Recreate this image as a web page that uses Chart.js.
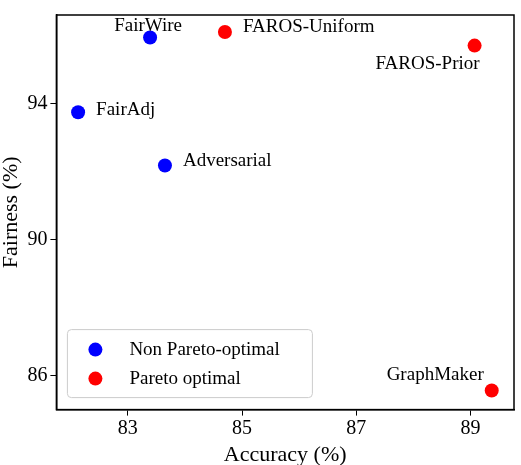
<!DOCTYPE html><html><head><script src="https://cdn.jsdelivr.net/npm/chart.js@4"></script>
<style>body{margin:0;background:#fff}#w{width:521px;height:465px}</style></head><body><div id="w"><canvas id="c"></canvas></div>
<script>
const names=["FairWire","FairAdj","Adversarial","FAROS-Uniform","FAROS-Prior","GraphMaker"];
const accuracy=[83.39,82.13,83.65,84.70,89.07,89.37];
const fairness=[95.94,93.74,92.17,96.1,95.7,85.55];
const pareto=[false,false,false,true,true,true];
const xTicks=[83,85,87,89];
const yTicks=[86,90,94];
const F='"Liberation Serif", "DejaVu Serif", serif';
const labelOff={"FairWire":[-2,-11,'center'],"FairAdj":[18,-2,'left'],"Adversarial":[18,-5,'left'],"FAROS-Uniform":[18,-5,'left'],"FAROS-Prior":[5,18,'right'],"GraphMaker":[-8,-16,'right']};
const mk=p=>names.map((n,i)=>pareto[i]===p?{x:accuracy[i],y:fairness[i],n}:null).filter(Boolean);
const plug={id:'lab',afterDatasetsDraw(ch){const c=ch.ctx;c.save();c.font='19px '+F;c.fillStyle='#000';c.textBaseline='middle';
ch.data.datasets.forEach(ds=>ds.data.forEach(d=>{const o=labelOff[d.n];c.textAlign=o[2];c.fillText(d.n,ch.scales.x.getPixelForValue(d.x)+o[0],ch.scales.y.getPixelForValue(d.y)+o[1]);}));
const a=ch.chartArea;const bx=a.left+11,by=a.bottom-80,bw=245,bh=68;
c.strokeStyle='#ccc';c.lineWidth=1;c.fillStyle='rgba(255,255,255,0.8)';c.beginPath();c.roundRect(bx,by,bw,bh,4);c.fill();c.stroke();
[['Non Pareto-optimal','#0000ff'],['Pareto optimal','#ff0000']].forEach((e,i)=>{const yy=by+20+i*29;c.fillStyle=e[1];c.beginPath();c.arc(bx+28,yy,7,0,7);c.fill();c.fillStyle='#000';c.textAlign='left';c.fillText(e[0],bx+62,yy);});
c.restore();}};
new Chart(document.getElementById('c'),{type:'scatter',data:{datasets:[
{data:mk(false),backgroundColor:'#0000ff',borderWidth:0,pointRadius:7},
{data:mk(true),backgroundColor:'#ff0000',borderWidth:0,pointRadius:7}]},
options:{responsive:true,maintainAspectRatio:false,animation:false,layout:{padding:{top:-8,right:3,bottom:-3,left:-2}},
plugins:{legend:{display:false},tooltip:{enabled:false}},
scales:{x:{min:81.75,max:89.76,afterBuildTicks:s=>{s.ticks=xTicks.map(v=>({value:v}))},
grid:{drawOnChartArea:false,color:'#000',tickLength:6,tickColor:'#000'},border:{color:'#000',width:1.5},
ticks:{color:'#000',font:{family:F,size:20},padding:1},title:{display:true,text:'Accuracy (%)',color:'#000',font:{family:F,size:22},padding:{top:0,bottom:0}}},
y:{min:84.99,max:96.6,afterBuildTicks:s=>{s.ticks=yTicks.map(v=>({value:v}))},
grid:{drawOnChartArea:false,color:'#000',tickLength:6,tickColor:'#000'},border:{color:'#000',width:1.5},
ticks:{color:'#000',font:{family:F,size:20},padding:3},title:{display:true,text:'Fairness (%)',color:'#000',font:{family:F,size:22},padding:{bottom:0,top:0}}}}},
plugins:[plug,{id:'frame',afterDraw(ch){const a=ch.chartArea,c=ch.ctx;c.save();c.strokeStyle='#000';c.lineWidth=1.5;c.strokeRect(a.left,a.top,a.right-a.left,a.bottom-a.top);c.restore();}}]});
</script></body></html>
